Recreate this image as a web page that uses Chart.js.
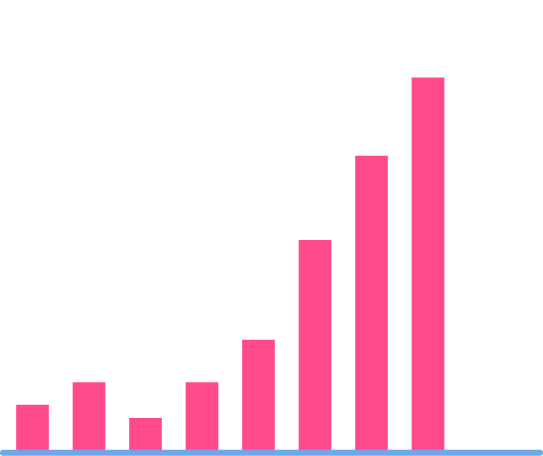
<!DOCTYPE html>
<html>
<head>
<meta charset="utf-8">
<script src="https://cdn.jsdelivr.net/npm/chart.js@4"></script>
<style>
  html, body { margin: 0; padding: 0; background: #fff; }
  #wrap { width: 543px; height: 456px; position: relative; }
</style>
</head>
<body>
<div id="wrap"><canvas id="bars"></canvas></div>
<script>
const categories = ['1', '2', '3', '4', '5', '6', '7', '8'];
const values = [10.5, 15.5, 7.6, 15.5, 24.9, 46.9, 65.5, 82.8];
const yMax = 100;

const BAR_COLOR = '#ff4b8b';
const LINE_COLOR = '#6fa6ee';

// baseline drawn across the full width with round ends
const baseline = {
  id: 'baseline',
  afterDatasetsDraw(chart) {
    const ctx = chart.ctx;
    const y = chart.scales.y.getPixelForValue(0);
    ctx.save();
    ctx.strokeStyle = LINE_COLOR;
    ctx.lineWidth = 6;
    ctx.lineCap = 'round';
    ctx.beginPath();
    ctx.moveTo(3, y);
    ctx.lineTo(chart.width - 3, y);
    ctx.stroke();
    ctx.restore();
  }
};

new Chart(document.getElementById('bars').getContext('2d'), {
  type: 'bar',
  data: {
    labels: categories,
    datasets: [{
      data: values,
      backgroundColor: BAR_COLOR,
      borderWidth: 0,
      barThickness: 32,
    }]
  },
  options: {
    responsive: true,
    maintainAspectRatio: false,
    animation: false,
    layout: { padding: { left: 4.25, right: 86.75, top: 0, bottom: 3.3 } },
    plugins: {
      legend: { display: false },
      tooltip: { enabled: false }
    },
    scales: {
      x: { display: false, grid: { display: false } },
      y: { display: false, min: 0, max: yMax, grid: { display: false } }
    }
  },
  plugins: [baseline]
});
</script>
</body>
</html>
